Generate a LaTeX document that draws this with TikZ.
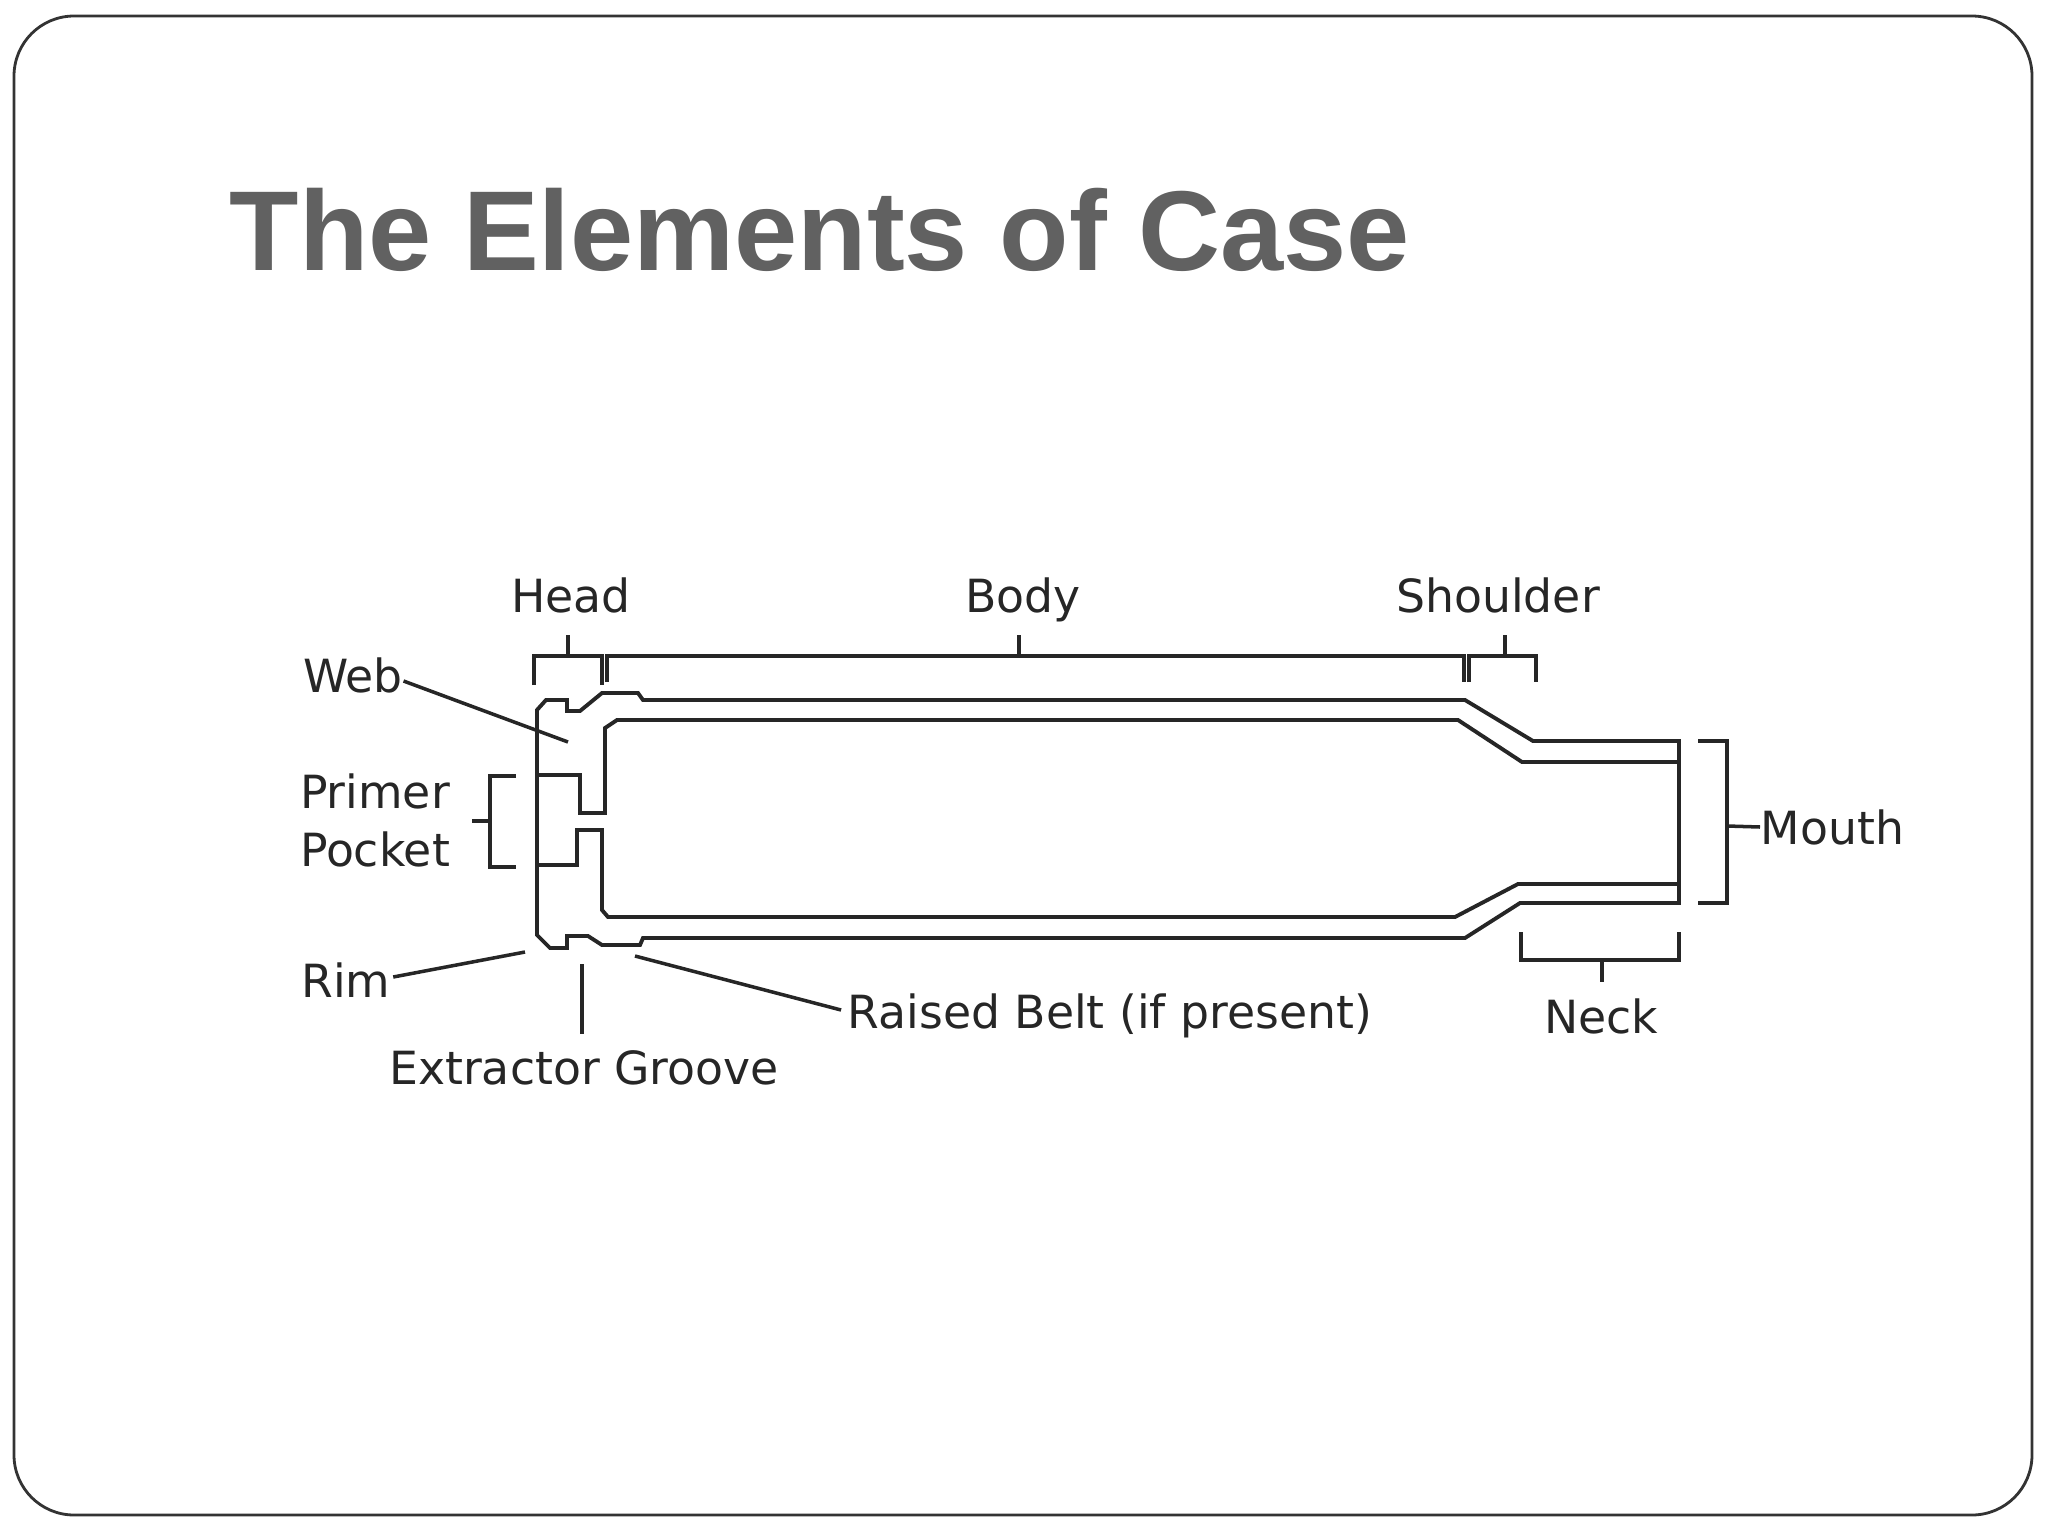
\documentclass[tikz,border=0pt]{standalone}
\usepackage{fontspec}
\setmainfont{DejaVu Sans}
\newfontfamily\titlefont{Liberation Sans}
\begin{document}
\begin{tikzpicture}[x=0.01cm,y=-0.01cm,
  case/.style={line width=1.1pt,line join=miter,draw=black!85},
  lbl/.style={font=\fontsize{13}{15}\selectfont,text=black!85,inner sep=0pt},
  br/.style={line width=1pt,draw=black!85},
  lead/.style={line width=1pt,draw=black!85}]
\useasboundingbox (0,0) rectangle (2048,1536);
\draw[line width=0.8pt,black!80,rounded corners=0.6cm] (14,16) rectangle (2032,1515);
\node[anchor=base west,inner sep=0pt,text=black!62,font=\titlefont\bfseries\fontsize{32.3}{36}\selectfont] (title) at (229,270) {The Elements of Case};
% case outline outer
\draw[case] (1679,741) -- (1533,741) -- (1465,700) -- (643,700) -- (638,693) -- (602,693) -- (580,711) -- (567,711) -- (567,700) -- (546,700) -- (537,710)
  -- (537,935) -- (550,948) -- (567,948) -- (567,936) -- (588,936) -- (602,945) -- (640,945) -- (643,938) -- (1465,938) -- (1520,903) -- (1679,903) -- cycle;
% inner cavity
\draw[case] (1679,762) -- (1522,762) -- (1458,720) -- (617,720) -- (605,728) -- (605,813) -- (580,813) -- (580,775) -- (537,775);
\draw[case] (537,865) -- (577,865) -- (577,830) -- (602,830) -- (602,910) -- (608,917) -- (1455,917) -- (1518,884) -- (1679,884);
% brackets top
\draw[br] (534,685) -- (534,656) -- (602,656) -- (602,685);
\draw[br] (568,656) -- (568,635);
\draw[br] (607,682) -- (607,656) -- (1464,656) -- (1464,682);
\draw[br] (1019,656) -- (1019,635);
\draw[br] (1469,682) -- (1469,656) -- (1536,656) -- (1536,682);
\draw[br] (1505,656) -- (1505,635);
\node[lbl,anchor=base] (head) at (571,612) {Head};
\node[lbl,anchor=base] (body) at (1023,612) {Body};
\node[lbl,anchor=base] (shoulder) at (1498,612) {Shoulder};
% mouth
\draw[br] (1698,741) -- (1727,741) -- (1727,903) -- (1698,903);
\coordinate (mt) at (1727,826);
\node[lbl,anchor=west] (mouth) at (1760,827) {Mouth};
\draw[br] (mt) -- (mouth.west);
% neck
\draw[br] (1521,932) -- (1521,960) -- (1679,960) -- (1679,932);
\coordinate (nt) at (1602,960);
\node[lbl] (neck) at (1601,1016) {Neck};
\draw[br] (nt) -- (1602,982);
% primer pocket
\draw[br] (516,776) -- (490,776) -- (490,867) -- (516,867);
\coordinate (pt) at (490,821);
\node[lbl] (primer) at (375,791) {Primer};
\node[lbl] (pocket) at (375,849) {Pocket};
\draw[br] (pt) -- (472,821);
% web
\node[lbl] (web) at (353,675) {Web};
\coordinate (webp) at (568,742);
\draw[lead] (web.east) ++(0,6) -- (webp);
% rim
\node[lbl] (rim) at (346,980) {Rim};
\coordinate (rimp) at (525,952);
\draw[lead] (rim.east) ++(2,-3) -- (rimp);
% extractor groove
\node[lbl] (eg) at (584,1068) {Extractor Groove};
\coordinate (egp) at (582,964);
\draw[lead] (egp) -- (582,1034);
% raised belt
\node[lbl] (rb) at (1110,1016) {Raised Belt (if present)};
\coordinate (rbp) at (635,956);
\draw[lead] (rb.west) ++(-6,-6) -- (rbp);
\end{tikzpicture}
\end{document}
